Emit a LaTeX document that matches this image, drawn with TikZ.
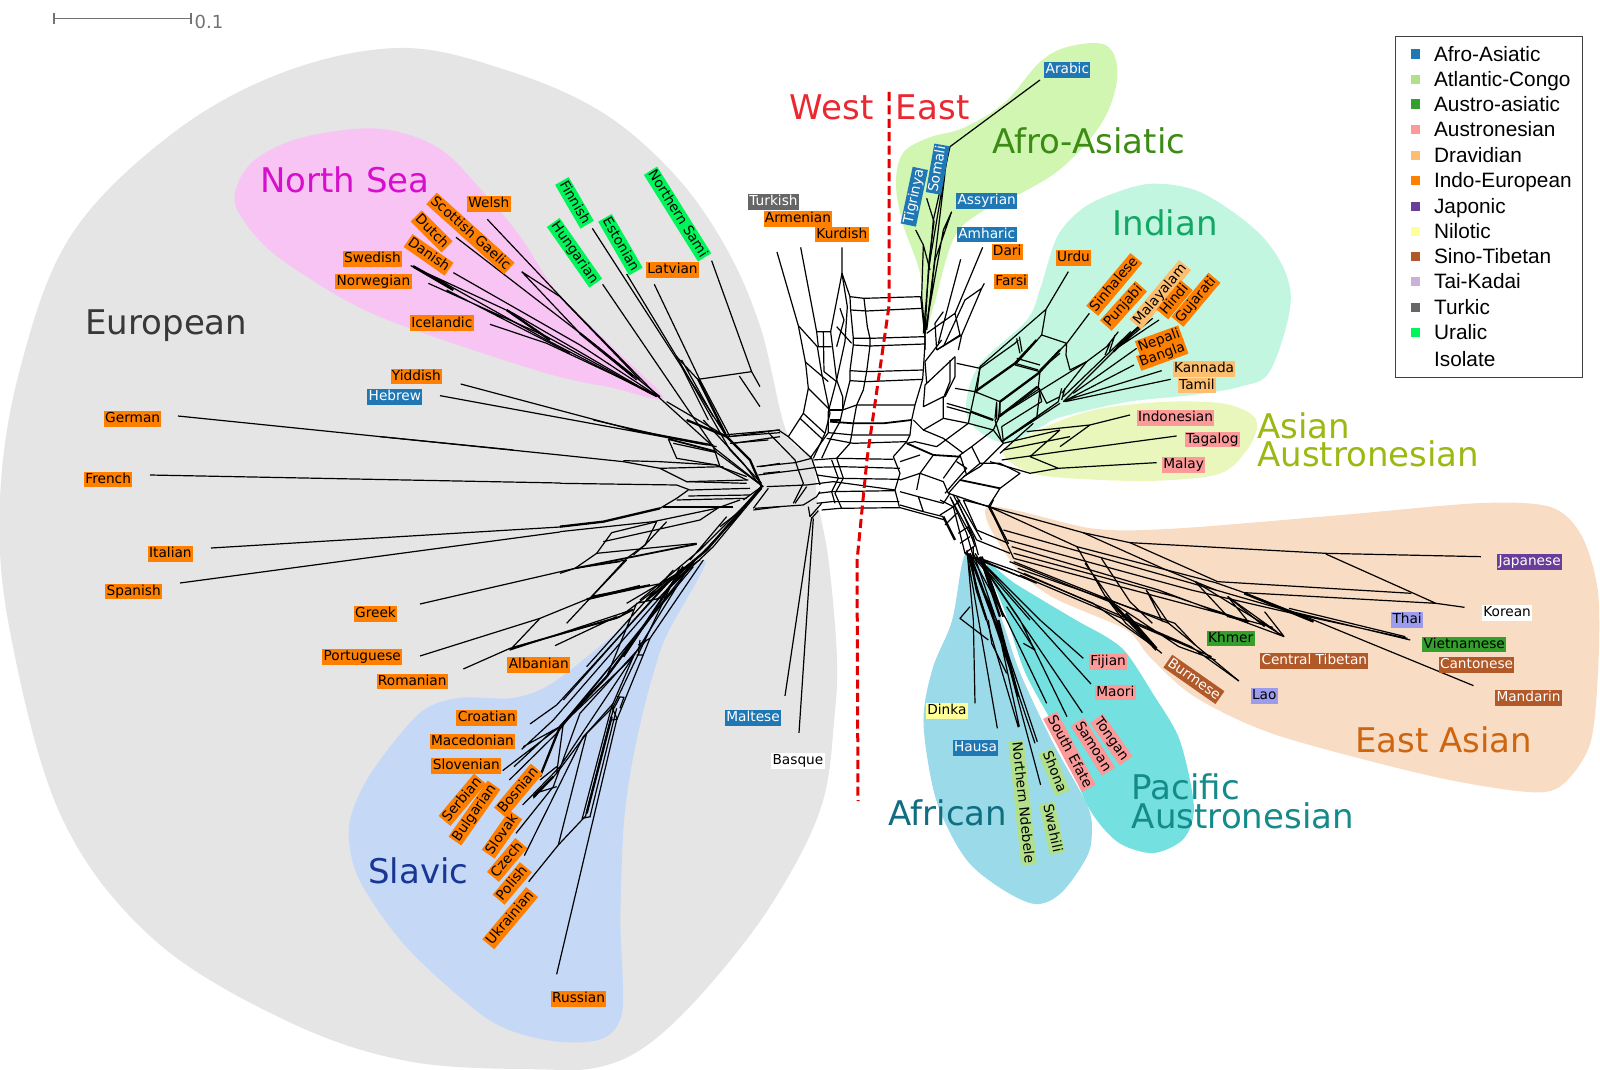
\documentclass[tikz,border=0pt]{standalone}
\usepackage{fontspec}
\setmainfont{DejaVu Sans}
\newfontfamily\keyfont{Liberation Sans}
\usepackage{tikz}
\definecolor{afro}{HTML}{1F78B4}
\definecolor{congo}{HTML}{B2DF8A}
\definecolor{austroas}{HTML}{33A02C}
\definecolor{austron}{HTML}{FB9A99}
\definecolor{dravid}{HTML}{FDBF6F}
\definecolor{indoeu}{HTML}{FF7F00}
\definecolor{japonic}{HTML}{6A3D9A}
\definecolor{nilotic}{HTML}{FFFF99}
\definecolor{sino}{HTML}{B15928}
\definecolor{taikadai}{HTML}{CAB2D6}
\definecolor{thaiblue}{HTML}{9C9CEE}
\definecolor{turkic}{HTML}{666666}
\definecolor{uralic}{HTML}{00F55A}
\tikzset{
  disp/.style={scale=1.0204},
  crop/.style 2 args={shift={(#1,#2)},scale=0.3333},
  net/.style={line width=0.6pt,line join=round},
  netb/.style={line width=1.15pt,line join=round},
  lab/.style={font=\fontsize{6.85}{8}\selectfont,inner xsep=0.7pt,inner ysep=0.7pt,text height=5.1pt,text depth=1.3pt,yshift=-0.4pt},
  ieL/.style={lab,fill=indoeu},
  afL/.style={lab,fill=afro,text=white},
  coL/.style={lab,fill=congo},
  aaL/.style={lab,fill=austroas},
  anL/.style={lab,fill=austron},
  drL/.style={lab,fill=dravid},
  jaL/.style={lab,fill=japonic,text=white},
  niL/.style={lab,fill=nilotic},
  siL/.style={lab,fill=sino,text=white},
  tkL/.style={lab,fill=thaiblue},
  tuL/.style={lab,fill=turkic,text=white},
  urL/.style={lab,fill=uralic},
  isL/.style={lab,fill=white},
  grp/.style={font=\fontsize{17}{17}\selectfont,inner sep=0pt,align=left},
  keyL/.style={font=\keyfont\fontsize{10.4}{12}\selectfont,inner sep=0pt,anchor=west,text height=7.5pt,text depth=2.2pt,yshift=-1pt},
}
\begin{document}
\begin{tikzpicture}[x=0.5pt,y=-0.5pt]
  \useasboundingbox (0,0) rectangle (1600,1070);
  \clip (0,0) rectangle (1600,1070);
  % regions
  \begin{scope}[disp]
    \fill[fill=black!10] plot[smooth cycle,tension=0.6] coordinates {(395,47) (500,70) (590,110) (660,170) (710,240) (745,320) (771,424) (796,449) (801,490) (812,549) (820,640) (818,700) (805,790) (760,880) (700,960) (640,1020) (590,1045) (530,1048) (400,1040) (280,1000) (150,920) (60,800) (10,620) (0,490) (20,360) (70,230) (170,130) (280,70)};
    \fill[fill={rgb,255:red,248;green,196;blue,244}] plot[smooth cycle,tension=0.55] coordinates {(230,190) (248,158) (295,135) (370,126) (430,145) (475,190) (510,232) (545,285) (600,340) (650,390) (600,380) (536,366) (405,323) (340,295) (270,250) (238,215)};
    \fill[fill={rgb,255:red,197;green,217;blue,247}] plot[smooth cycle,tension=0.5] coordinates {(691,549) (604,620) (542,669) (503,684) (450,684) (411,699) (362,760) (342,810) (352,862) (400,930) (480,1000) (540,1020) (590,1018) (610,990) (608,900) (612,800) (625,720) (650,630)};
    \fill[fill={rgb,255:red,208;green,246;blue,178}] plot[smooth cycle,tension=0.6] coordinates {(1050,45) (1085,45) (1095,75) (1080,120) (1040,165) (990,195) (958,210) (934,235) (915,300) (905,328) (902,270) (885,220) (878,180) (885,150) (910,135) (945,125) (985,100) (1020,60)};
    \fill[fill={rgb,255:red,194;green,246;blue,225}] plot[smooth cycle,tension=0.55] coordinates {(958,360) (1006,314) (1020,281) (1036,232) (1060,205) (1090,190) (1130,180) (1180,190) (1240,235) (1265,290) (1245,363) (1215,379) (1169,387) (1104,394) (1039,409) (1019,419) (983,434) (948,409)};
    \fill[fill={rgb,255:red,234;green,247;blue,188}] plot[smooth cycle,tension=0.55] coordinates {(1019,421) (1071,402) (1137,394) (1196,395) (1225,405) (1232,418) (1222,441) (1196,464) (1137,471) (1071,470) (1012,464) (983,443)};
    \fill[fill={rgb,255:red,248;green,220;blue,196}] plot[smooth cycle,tension=0.5] coordinates {(968,497) (1071,518) (1151,518) (1311,505) (1451,493) (1520,497) (1550,525) (1566,580) (1566,660) (1558,730) (1530,770) (1495,776) (1400,760) (1250,720) (1171,683) (1127,644) (1103,617) (1031,585) (992,552)};
    \fill[fill={rgb,255:red,155;green,219;blue,233}] plot[smooth cycle,tension=0.55] coordinates {(945,545) (933,608) (914,655) (905,706) (914,771) (928,810) (950,846) (983,872) (1015,886) (1040,875) (1065,840) (1070,815) (1065,788) (1032,728) (1000,660) (982,608) (960,555)};
    \fill[fill={rgb,255:red,116;green,224;blue,224}] plot[smooth cycle,tension=0.5] coordinates {(967,552) (995,572) (1055,608) (1084,624) (1104,640) (1130,680) (1156,725) (1170,790) (1160,822) (1130,836) (1095,825) (1066,790) (1040,725) (1005,660) (985,600)};
  \end{scope}
  % centre of the network
  \begin{scope}[crop={640}{240},net]
    \draw (411,36) -- (475,257) -- (497,370) -- (505,445) -- (490,520) -- (445,590) -- (515,655) -- (530,700) -- (540,735);
    \draw (475,257) -- (532,320) -- (545,400) -- (570,520) -- (555,580) -- (520,655);
    \draw (482,22) -- (530,275) -- (535,320) -- (575,320);
    \draw (530,275) -- (572,275) -- (606,100) -- (630,170) -- (632,210) -- (640,295) -- (640,315) -- (630,392) -- (630,422) -- (608,510) -- (600,545) -- (575,590) -- (545,655);
    \draw (606,22) -- (606,100) -- (622,200) -- (615,305) -- (590,420) -- (565,515) -- (565,578) -- (510,655);
    \draw (572,275) -- (590,420) -- (608,470) -- (608,510);
    \draw (590,260) -- (635,310) (600,205) -- (612,240) -- (590,320);
    \draw (550,275) -- (552,395) -- (590,425) (495,365) -- (565,425) (505,445) -- (570,510) (490,520) -- (555,580) (480,535) -- (550,600);
    \draw (565,510) -- (608,510) (570,540) -- (600,540);
    \draw (630,170) -- (672,175) -- (842,170) (632,210) -- (680,213) -- (845,205);
    \draw (640,295) -- (690,295) -- (855,290) (640,315) -- (690,318) -- (855,312);
    \draw (630,392) -- (680,395) -- (850,390) (630,422) -- (680,425) -- (848,418);
    \draw (608,510) -- (650,495) -- (825,495);
    \draw[line width=0.9pt] (570,545) -- (640,550) -- (730,550) -- (815,540);
    \draw (565,578) -- (640,585) -- (810,585) (560,595) -- (640,610) -- (800,605);
    \draw (672,175) -- (682,260) -- (690,295) -- (690,318) -- (680,395) -- (670,450) -- (650,495) -- (640,550) -- (635,585) -- (630,610) -- (590,655);
    \draw (842,170) -- (855,290) -- (855,312) -- (850,390) -- (848,418) -- (825,495) -- (815,540) -- (810,585) -- (800,605) -- (760,650) -- (780,700) -- (765,750) -- (778,800);
    \draw (520,660) -- (590,655) -- (760,658) (530,682) -- (600,680) -- (780,685);
    \draw (530,705) -- (600,715) -- (780,718) (380,740) -- (500,735) -- (580,725) -- (765,750);
    \draw (535,760) -- (575,755) -- (765,752) (530,790) -- (575,785) -- (778,785);
    \draw (545,810) -- (600,805) -- (780,803) -- (915,840);
    \draw (590,655) -- (610,715) -- (585,760) -- (605,805) (575,660) -- (595,715) -- (575,755) -- (585,790);
    \draw (270,590) -- (380,575) -- (415,570) -- (445,590) (270,610) -- (385,600);
    \draw (385,578) -- (465,660) -- (475,690) -- (490,730) -- (460,790);
    \draw (350,680) -- (465,668) -- (515,655) (355,705) -- (475,690) -- (530,682);
    \draw (345,805) -- (490,795) -- (530,770) -- (540,755) (505,800) -- (510,830) -- (545,790) (515,835) -- (535,812);
    \draw (515,832) -- (435,1368) (520,835) -- (477,1479);
    \draw (500,740) -- (465,790);
  \end{scope}
  % eastern mesh
  \begin{scope}[crop={900}{340},net]
    \draw (125,0) -- (75,65) -- (80,130) (165,50) -- (75,135) -- (70,200) -- (130,170) -- (130,235) -- (70,270) -- (40,240);
    \draw (165,50) -- (165,110) -- (135,170) (150,60) -- (150,125) -- (130,175);
    \draw (170,70) -- (240,85) -- (225,155) -- (212,215) -- (205,250) -- (280,270);
    \draw (165,145) -- (225,155) (140,190) -- (210,210) (140,200) -- (212,220) (130,235) -- (205,250);
    \draw (205,250) -- (110,320) -- (45,305) -- (20,310);
    \draw (70,270) -- (130,295) -- (190,340);
    \draw[line width=0.9pt] (20,310) -- (100,345) -- (180,350);
    \draw (100,345) -- (60,400) -- (130,425) -- (145,460);
    \draw (280,270) -- (215,320) -- (240,370) -- (180,420) -- (145,460);
    \draw (215,320) -- (180,345) -- (130,415) (170,365) -- (200,385) -- (135,460) (180,345) -- (200,405);
    \draw (280,270) -- (310,310) -- (240,380) -- (190,410);
    \draw (240,370) -- (300,370) -- (360,400) -- (300,445) -- (265,500) -- (320,600);
    \draw[line width=0.9pt] (180,420) -- (300,445);
    \draw (145,460) -- (265,500);
    \draw (0,420) -- (60,400) (0,455) -- (55,470) -- (130,490) -- (150,460) (55,470) -- (70,515) -- (130,530) (70,515) -- (0,495) (0,365) -- (60,345);
    \draw (150,470) -- (220,600) (160,465) -- (230,600) (170,470) -- (245,600) (170,520) -- (135,555) (60,400) -- (50,450);
    \draw[netb] (130,530) -- (165,600);
    \draw (240,85) -- (345,10) -- (355,0) (300,185) -- (300,225) -- (280,270) (290,190) -- (290,235) -- (285,240);
    \draw (285,240) -- (305,305) -- (410,235) -- (420,150) -- (410,140) -- (300,225);
    \draw (225,155) -- (300,185) (345,70) -- (415,90) (350,55) -- (420,75) (300,225) -- (420,145);
    \draw (305,305) -- (480,190) (420,90) -- (480,40) (420,150) -- (440,190) -- (480,170);
    \draw[netb] (225,155) -- (345,70) -- (410,0) (300,185) -- (415,100) -- (480,30) (212,215) -- (280,240);
    \draw (300,340) -- (400,250);
  \end{scope}
  % Afro-Asiatic leaves
  \begin{scope}[crop={880}{40},net]
    \draw (480,120) -- (210,320) -- (160,540) -- (130,880);
    \draw (205,335) -- (145,690) -- (135,880) (195,400) -- (140,860);
    \draw (140,475) -- (162,545) -- (145,680);
    \draw (215,515) -- (190,570) -- (135,880) (215,515) -- (165,660) -- (140,870);
    \draw (107,570) -- (130,615) -- (125,770) -- (135,880) -- (135,930) (130,615) -- (150,690);
    \draw (242,658) -- (175,910) (308,622) -- (225,820) -- (240,885) -- (170,930) (190,815) -- (165,850) -- (170,930) (225,820) -- (140,880);
    \draw (313,730) -- (305,745) -- (255,780) -- (190,920) (305,745) -- (245,885) -- (235,930) (245,885) -- (170,930);
  \end{scope}
  % Indian and Asian Austronesian leaves
  \begin{scope}[crop={960}{220},net]
    \draw (325,155) -- (258,268) -- (245,345) -- (165,435) (258,268) -- (60,440) -- (50,520);
    \draw (245,345) -- (320,370) -- (318,405) -- (330,450) -- (380,425) -- (305,520) (388,280) -- (322,368) -- (240,450);
    \draw (170,355) -- (180,400) (178,350) -- (186,395);
    \draw (165,435) -- (240,455) -- (235,500) -- (245,545) -- (125,620) (235,500) -- (120,590);
    \draw (475,335) -- (440,380) -- (380,425) -- (115,590) (450,370) -- (435,405) (465,345) -- (448,395);
    \draw (578,295) -- (470,385) -- (310,545) (597,300) -- (470,385) (512,335) -- (440,405) -- (310,530);
    \draw (530,385) -- (340,520) (522,435) -- (310,545) (605,452) -- (320,540) (632,478) -- (315,545);
    \draw (305,505) -- (295,545) -- (130,660) (315,505) -- (305,540) (295,545) -- (190,620);
    \draw (125,620) -- (130,665) (110,545) -- (105,595) (120,545) -- (115,600);
    \draw[netb] (560,300) -- (470,380) (510,345) -- (460,395);
    \draw (200,635) -- (390,615) -- (510,585) (390,615) -- (300,680) (330,650) -- (130,690) (300,630) -- (210,710) (300,630) -- (130,670);
    \draw (210,710) -- (295,745) -- (590,728) (125,720) -- (210,708) -- (300,695) -- (650,648) (90,725) -- (210,760) -- (295,745);
  \end{scope}
  % East Asian leaves
  \begin{scope}[shift={(930,490)},xscale=0.408,yscale=0.3333,net]
    \draw (1350,200) -- (970,190) -- (490,158) -- (375,128) -- (145,50) -- (205,205);
    \draw (1310,352) -- (1240,340) -- (970,192) (1240,340) -- (770,308) -- (700,278) -- (360,170) -- (145,50);
    \draw (1180,310) -- (705,275) -- (490,158) (375,128) -- (570,235) -- (700,300);
    \draw (1177,450) -- (870,360) -- (700,300) -- (180,120) (1170,445) -- (870,365) -- (640,300) -- (190,150);
    \draw (1165,440) -- (880,355) (1332,587) -- (930,385) -- (770,308);
    \draw (868,440) -- (820,365) (868,440) -- (650,275) (868,440) -- (560,300) -- (200,170) (850,425) -- (730,320) -- (780,395) -- (600,320) -- (205,190) (840,412) -- (205,205);
    \draw (360,170) -- (430,320) -- (480,400) -- (568,490) (420,205) -- (490,335) -- (545,400) (380,220) -- (450,340) -- (555,475);
    \draw (530,300) -- (585,400) -- (650,465) -- (757,573) (530,300) -- (570,395) (585,400) -- (205,215);
    \draw (757,573) -- (640,470) -- (230,250) (700,510) -- (610,470) -- (450,340) -- (195,215) (690,500) -- (480,390) -- (220,255);
    \draw (650,465) -- (600,400) -- (215,235) (555,475) -- (400,340) -- (205,240) (650,275) -- (730,380) -- (780,395) (730,320) -- (820,410);
    \draw[netb] (430,320) -- (555,480) (770,310) -- (940,395) (480,370) -- (555,475);
  \end{scope}
  % root of the African and Pacific fans
  \begin{scope}[crop={940}{500},net]
    \draw (0,45) -- (40,20) -- (75,160) -- (100,180) -- (100,140) -- (75,160) (40,20) -- (0,0);
    \draw (40,20) -- (60,0) (70,0) -- (110,90) -- (205,130) -- (150,20) -- (70,0) (35,0) -- (80,100) -- (100,170) (50,0) -- (100,110) -- (115,165);
    \draw (55,100) -- (85,80) -- (105,140) (60,130) -- (90,110);
    \draw (110,120) -- (210,160) (100,170) -- (290,250) (105,175) -- (240,230) (120,175) -- (220,210);
    \draw (150,20) -- (160,0);
  \end{scope}
  \begin{scope}[crop={920}{620},net]
    \draw (165,250) -- (160,0) (141,-210) -- (160,0) (141,-201) -- (232,325);
    \draw (295,322) -- (200,0) -- (141,-201) (352,365) -- (250,60) -- (160,-200) (362,495) -- (230,0) -- (141,-201) (345,370) -- (220,0) -- (145,-200) (298,320) -- (235,30) -- (150,-200);
    \draw (380,250) -- (260,0) -- (150,-200) (441,290) -- (300,0) -- (165,-200) (487,278) -- (340,60) -- (210,-130) -- (160,-190) (513,192) -- (340,0) -- (170,-190) (490,115) -- (360,0) -- (170,-190);
    \draw (330,0) -- (160,-195) (150,-40) -- (120,-5) -- (205,60) (260,-40) -- (345,90) -- (310,70);
    \draw[netb] (235,0) -- (295,230) (240,-10) -- (180,-190) (250,-10) -- (185,-190) (200,0) -- (170,-90) -- (150,-190);
    \draw (205,0) -- (215,70) -- (260,160);
  \end{scope}
  % northern leaves
  \begin{scope}[crop={380}{150},net]
    \draw (322,208) -- (560,460) -- (840,745) -- (1000,890);
    \draw (228,262) -- (640,580) -- (840,740);
    \draw (425,365) -- (540,440) -- (780,690) (425,365) -- (600,550) -- (770,690);
    \draw (220,368) -- (600,585) -- (835,740);
    \draw (92,347) -- (400,490) -- (830,740) (100,347) -- (500,570) -- (820,735);
    \draw (145,400) -- (500,560) -- (830,740) (200,420) -- (570,610);
    \draw (330,523) -- (500,580) -- (830,735);
    \draw[netb] (600,550) -- (760,680) (100,350) -- (220,420) (380,480) -- (510,570);
    \draw (668,403) -- (1000,890) (637,235) -- (1040,860);
    \draw (740,372) -- (890,620) -- (1050,900);
    \draw (823,403) -- (960,690) -- (1050,860) (995,332) -- (1115,665) -- (1140,710);
    \draw (890,620) -- (955,690) (900,640) -- (985,810) (905,630) -- (1000,800);
    \draw (955,688) -- (1115,665) (1078,678) -- (1140,770);
    \draw[netb] (955,688) -- (1040,860);
    \draw (242,702) -- (760,840) -- (1000,885) (180,737) -- (740,840) -- (980,885);
    \draw (860,755) -- (1040,860) (0,860) -- (400,900);
  \end{scope}
  % western fan
  \begin{scope}[crop={560}{420},net]
    \draw (100,0) -- (340,55) -- (470,80) (0,105) -- (190,125) -- (300,145) -- (380,185) -- (565,180);
    \draw (0,190) -- (350,195) -- (390,210) -- (570,205) (0,335) -- (280,305) -- (470,265) -- (540,240);
    \draw[netb] (0,320) -- (130,305) -- (300,265);
    \draw (300,265) -- (350,235) -- (385,210);
    \draw[netb] (310,262) -- (520,262);
    \draw (350,240) -- (560,235) (385,228) -- (570,225);
    \draw[line width=0.9pt] (325,57) -- (470,95);
    \draw (325,57) -- (350,115) -- (470,135) -- (560,180) (340,70) -- (470,98) -- (610,200);
    \draw (190,122) -- (300,125) -- (470,135) (300,145) -- (490,140) (460,80) -- (480,140) -- (560,170);
    \draw (155,338) -- (110,400) -- (45,445) -- (0,460) (155,338) -- (290,305) -- (255,375) -- (200,415) -- (90,535);
    \draw (130,365) -- (420,300) -- (480,260) (110,400) -- (410,370) (320,305) -- (255,375) -- (220,405);
    \draw[line width=0.9pt] (45,445) -- (410,372);
    \draw[line width=0.9pt] (95,530) -- (270,495);
    \draw (490,45) -- (660,30) (500,50) -- (660,38) (520,70) -- (660,50) (600,140) -- (660,130) (610,160) -- (660,155) (580,270) -- (660,260) (625,205) -- (580,265) (605,205) -- (545,270) -- (480,320);
    \draw[netb] (380,0) -- (500,50) -- (570,120) -- (605,200) -- (570,240) -- (440,390) -- (260,540);
    \draw (430,0) -- (550,130) -- (595,190) (470,0) -- (500,50) (605,205) -- (460,380) -- (290,540) (590,220) -- (420,390) -- (240,540) (500,290) -- (390,420) (550,270) -- (330,500);
    \draw (380,185) -- (560,190) (550,240) -- (605,200) (459,81) -- (610,200) (510,90) -- (605,190);
  \end{scope}
  % western long leaves
  \begin{scope}[net]
    \draw (178,416) -- (560,455) (150,475) -- (560,483) (211,548) -- (560,527) (180,583) -- (560,532);
  \end{scope}
  % Slavic leaves
  \begin{scope}[crop={420}{560},net]
    \draw (0,132) -- (465,25) -- (620,0) (465,25) -- (600,5) (0,288) -- (360,175) -- (500,118) -- (715,72);
    \draw (130,327) -- (270,265) -- (590,175) -- (640,150) (405,257) -- (590,170) (360,175) -- (270,270) -- (590,165) (510,115) -- (440,190) (510,115) -- (620,0) (590,165) -- (640,148);
    \draw[netb] (500,118) -- (660,78);
    \draw[line width=0.9pt] (290,260) -- (600,170);
    \draw (330,492) -- (410,435) -- (780,30) (305,568) -- (400,480) -- (800,20) (310,560) -- (420,500);
    \draw (248,632) -- (420,500) -- (820,20) (268,660) -- (410,520) -- (820,10) (282,620) -- (400,510);
    \draw (308,735) -- (420,620) -- (640,290) (288,820) -- (400,680) -- (480,460) -- (680,240);
    \draw (313,887) -- (490,530) -- (580,440) -- (780,20) (326,965) -- (415,855) -- (495,770);
    \draw (415,855) -- (500,520) -- (580,430) (410,1243) -- (590,480) -- (690,235) -- (850,0);
    \draw (487,775) -- (575,440) -- (640,290) -- (820,0) (495,775) -- (582,440) (510,770) -- (590,445);
    \draw (485,775) -- (512,770) (575,440) -- (592,478) (590,410) -- (612,412) -- (600,445) (575,480) -- (592,478) (600,410) -- (582,445);
    \draw (340,715) -- (410,640) -- (430,490) -- (640,290) (360,660) -- (410,620) (345,700) -- (410,680) (410,640) -- (500,520);
    \draw (655,255) -- (690,235) (650,285) -- (670,285) (660,240) -- (655,285);
    \draw[netb] (360,650) -- (420,500) -- (560,350) -- (700,160) (340,710) -- (400,650) (610,290) -- (790,20) (500,760) -- (575,470);
    \draw (620,130) -- (840,0) (600,170) -- (810,10) (500,320) -- (760,30) (430,420) -- (730,80) (560,350) -- (650,130) -- (740,110);
  \end{scope}
  \draw[red!90!black,line width=1.5pt,dash pattern=on 4.5pt off 2.2pt] (889,92) -- (889,306) -- (867,459) -- (857,561) -- (858,801);
  % scale bar
  \draw[black!55,line width=0.55pt] (54,13) -- (54,24) (54,18.5) -- (191,18.5) (191,13) -- (191,24);
  \node[font=\fontsize{9}{9}\selectfont,text=black!55,inner sep=0pt] (scalelab) at (209,21.5) {0.1};
  % region names
  \begin{scope}[disp]
    \node[grp,text=black!78] (european) at (163,319) {European};
    \node[grp,text={rgb,255:red,215;green,15;blue,205}] (northsea) at (338,176) {North Sea};
    \node[grp,text={rgb,255:red,24;green,54;blue,150}] (slavic) at (410,853) {Slavic};
    \node[grp,text={rgb,255:red,60;green,140;blue,20}] (afroasiatic) at (1067,138) {Afro-Asiatic};
    \node[grp,text={rgb,255:red,18;green,168;blue,100}] (indian) at (1142,218) {Indian};
    \node[grp,text={rgb,255:red,155;green,185;blue,18}] (asianaus) at (1341,431) {Asian\\[-3pt]Austronesian};
    \node[grp,text={rgb,255:red,205;green,102;blue,17}] (eastasian) at (1415,725) {East Asian};
    \node[grp,text={rgb,255:red,20;green,138;blue,138}] (pacificaus) at (1218,785) {Pacific\\[-2.5pt]Austronesian};
    \node[grp,text={rgb,255:red,15;green,110;blue,128}] (african) at (929,797) {African};
    \node[grp,text={rgb,255:red,235;green,40;blue,50}] (west) at (815,105) {West};
    \node[grp,text={rgb,255:red,235;green,40;blue,50}] (east) at (914,105) {East};
    % language labels
    \foreach \nm/\tx/\x/\y/\r/\sty in {
      arabic/Arabic/1046/68/0/afL, somali/Somali/919/165/80/afL, tigrinya/Tigrinya/896/192/78/afL,
      assyrian/Assyrian/967/196/0/afL, amharic/Amharic/967/229/0/afL, turkish/Turkish/758/197/0/tuL,
      armenian/Armenian/782/214/0/ieL, kurdish/Kurdish/825/229/0/ieL, dari/Dari/987/246/0/ieL,
      farsi/Farsi/991/275/0/ieL, urdu/Urdu/1052/252/0/ieL, sinhalese/Sinhalese/1092/278/50/ieL,
      punjabi/Punjabi/1101/299/48/ieL, malayalam/Malayalam/1137/288/50/drL, hindi/Hindi/1151/293/50/ieL,
      gujarati/Gujarati/1172/293/50/ieL, nepali/Nepali/1136/333/20/ieL, bangla/Bangla/1139/347/20/ieL,
      kannada/Kannada/1180/361/0/drL, tamil/Tamil/1173/377/0/drL, indonesian/Indonesian/1152/409/0/anL,
      tagalog/Tagalog/1188/430/0/anL, malay/Malay/1160/455/0/anL, japanese/Japanese/1499/550/0/jaL,
      korean/Korean/1477/600/0/isL, thai/Thai/1379/607/0/tkL, khmer/Khmer/1206/625/0/aaL,
      vietnamese/Vietnamese/1435/631/0/aaL, centraltibetan/Central Tibetan/1288/647/0/siL,
      cantonese/Cantonese/1447/651/0/siL, burmese/Burmese/1170/665/-35/siL, lao/Lao/1239/681/0/tkL,
      mandarin/Mandarin/1498/683/0/siL, fijian/Fijian/1086/648/0/anL, maori/Maori/1093/678/0/anL,
      tongan/Tongan/1089/724/-55/anL, samoan/Samoan/1071/731/-58/anL, southefate/South Efate/1048/736/-62/anL,
      shona/Shona/1033/756/-68/coL, swahili/Swahili/1031/811/-78/coL, ndebele/Northern Ndebele/1002/786/-84/coL,
      dinka/Dinka/928/696/0/niL, hausa/Hausa/956/732/0/afL, maltese/Maltese/738/703/0/afL,
      basque/Basque/782/745/0/isL, russian/Russian/567/978/0/ieL, ukrainian/Ukrainian/500/899/50/ieL,
      polish/Polish/502/865/50/ieL, czech/Czech/497/842/50/ieL, slovak/Slovak/492/817/55/ieL,
      bosnian/Bosnian/508/774/50/ieL, bulgarian/Bulgarian/465/796/55/ieL, serbian/Serbian/453/783/50/ieL,
      slovenian/Slovenian/457/750/0/ieL, macedonian/Macedonian/463/726/0/ieL, croatian/Croatian/477/703/0/ieL,
      albanian/Albanian/528/651/0/ieL, romanian/Romanian/404/667/0/ieL, portuguese/Portuguese/355/643/0/ieL,
      greek/Greek/368/601/0/ieL, spanish/Spanish/131/579/0/ieL, italian/Italian/167/542/0/ieL,
      french/French/106/469/0/ieL, german/German/130/410/0/ieL, hebrew/Hebrew/387/388/0/afL,
      yiddish/Yiddish/408/368/0/ieL, icelandic/Icelandic/433/316/0/ieL, norwegian/Norwegian/366/275/0/ieL,
      swedish/Swedish/365/253/0/ieL, danish/Danish/420/249/-35/ieL, dutch/Dutch/423/226/-45/ieL,
      scottish/Scottish Gaelic/461/228/-42/ieL, welsh/Welsh/479/199/0/ieL, finnish/Finnish/563/198/-60/urL,
      hungarian/Hungarian/563/247/-55/urL, estonian/Estonian/608/239/-60/urL,
      northernsami/Northern Sami/664/209/-58/urL, latvian/Latvian/659/264/0/ieL}{
      \node[\sty,rotate=\r] (\nm) at (\x,\y) {\tx};
    }
    % legend
    \node[draw=black!75,fill=white,line width=0.6pt,minimum width=93.4pt,minimum height=170.4pt,inner sep=0pt] (legendbox) at (1459.5,203) {};
    \foreach \nm/\tx/\col/\y in {
      keyafro/Afro-Asiatic/afro/53, keycongo/Atlantic-Congo/congo/78, keyaustro/Austro-asiatic/austroas/102,
      keyaustron/Austronesian/austron/127, keydravid/Dravidian/dravid/152, keyindo/Indo-European/indoeu/177,
      keyjaponic/Japonic/japonic/202, keynilotic/Nilotic/nilotic/227, keysino/Sino-Tibetan/sino/251,
      keytai/Tai-Kadai/taikadai/276, keyturkic/Turkic/turkic/301, keyuralic/Uralic/uralic/326}{
      \fill[\col] (1382.5,\y-4.5) rectangle (1391.5,\y+4.5);
      \node[keyL] (\nm) at (1405,\y) {\tx};
    }
    \node[keyL] (keyisolate) at (1405,352) {Isolate};
  \end{scope}
\end{tikzpicture}
\end{document}
